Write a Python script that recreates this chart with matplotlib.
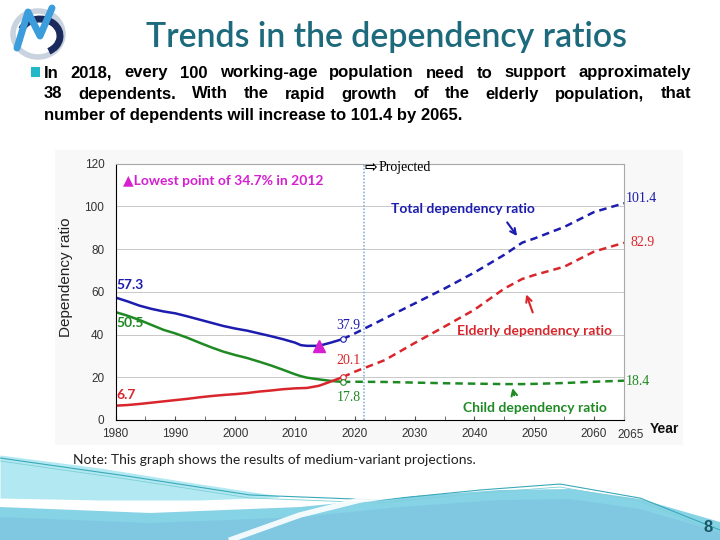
import numpy as np
import matplotlib.pyplot as plt
import matplotlib.transforms as mtransforms
from matplotlib import font_manager as fm
from matplotlib.patches import Rectangle, Ellipse, Arc

### Data
years_hist = [1980, 1982, 1984, 1986, 1988, 1990, 1992, 1994, 1996, 1998, 2000,
              2002, 2004, 2006, 2008, 2010, 2011, 2012, 2014, 2016, 2018]
total_hist = [57.3, 55.5, 53.5, 52.0, 50.8, 49.9, 48.5, 47.0, 45.5, 44.0, 42.8,
              41.8, 40.5, 39.2, 37.8, 36.2, 35.0, 34.7, 34.7, 36.2, 37.9]
child_hist = [50.5, 48.8, 46.8, 44.5, 42.2, 40.5, 38.5, 36.2, 34.0, 32.0, 30.4,
              29.0, 27.3, 25.5, 23.5, 21.4, 20.5, 19.8, 19.0, 18.3, 17.8]
elderly_hist = [6.7, 7.0, 7.5, 8.1, 8.7, 9.3, 9.9, 10.6, 11.2, 11.7, 12.1,
                12.6, 13.3, 13.8, 14.4, 14.8, 14.9, 15.0, 16.0, 18.0, 20.1]

years_proj = [2018, 2020, 2025, 2030, 2035, 2040, 2045, 2048, 2050, 2055, 2060, 2065]
total_proj = [37.9, 40.5, 47.5, 54.5, 61.5, 69.0, 77.3, 83.0, 84.9, 90.3, 97.3, 101.4]
elderly_proj = [20.1, 22.6, 28.0, 36.0, 43.7, 51.6, 61.5, 66.0, 67.8, 71.7, 78.8, 82.9]
child_proj = [17.8, 17.9, 17.8, 17.5, 17.2, 17.0, 16.8, 16.8, 16.9, 17.3, 17.9, 18.4]

lowest_year, lowest_val = 2014, 34.7
projected_from = 2021.5

xtick_vals = [1980, 1990, 2000, 2010, 2020, 2030, 2040, 2050, 2060, 2065]
ytick_vals = [0, 20, 40, 60, 80, 100, 120]

BLUE = '#1c1cae'
RED = '#d8262c'
GREEN = '#1f8a24'
MAGENTA = '#d61fd0'

names = {f.name for f in fm.fontManager.ttflist}
def pick(*cands):
    for c in cands:
        if c in names:
            return c
    return 'DejaVu Sans'

SANS = pick('Liberation Sans', 'DejaVu Sans')
NARROW = pick('Liberation Sans Narrow', 'DejaVu Sans Condensed', 'Liberation Sans')
HUMAN = pick('Lato', 'Open Sans', 'DejaVu Sans')
SERIF = pick('Liberation Serif', 'DejaVu Serif')

fig = plt.figure(figsize=(7.2, 5.4), dpi=100)

### Slide background / decorations (pixel coordinates)
bg = fig.add_axes([0, 0, 1, 1], zorder=0)
bg.set_xlim(0, 720)
bg.set_ylim(540, 0)
bg.axis('off')

# chart picture frame
bg.add_patch(Rectangle((55, 150), 628, 295, facecolor='#f8f8f8', edgecolor='none'))

# bottom waves
xw = np.linspace(0, 720, 200)
top_fill = np.interp(xw, [0, 150, 300, 400, 500, 570, 640, 720], [507, 513, 507, 497, 490, 489, 499, 522])
bg.fill_between(xw, top_fill, 540, color='#86d3e6', lw=0)
bg.fill_between(xw, top_fill + 10, 540, color='#7cc2e0', lw=0, alpha=0.6)
wedge_top = np.interp(xw, [0, 100, 200, 280], [455, 468, 484, 496])
wedge_bot = np.interp(xw, [0, 100, 200, 280], [498, 500, 500, 497])
mask = xw <= 280
bg.fill_between(xw[mask], wedge_top[mask], wedge_bot[mask], color='#9ee3ee', lw=0, alpha=0.8)
line_a = np.interp(xw, [0, 120, 250, 380, 480, 560, 640, 720], [458, 475, 495, 500, 490, 484, 498, 530])
bg.plot(xw, line_a, color='#3aa9b8', lw=0.8)
bg.plot(xw, line_a + 3, color='#7fcfd8', lw=0.6)
streak = np.interp(xw, [230, 300, 360, 420], [540, 515, 500, 492])
m2 = (xw >= 230) & (xw <= 420)
bg.plot(xw[m2], streak[m2], color='white', lw=4, alpha=0.9)

# logo
bg.add_patch(Ellipse((38, 34), 50, 46, fill=False, ec='#c9d3df', lw=4))
bg.add_patch(Arc((40, 36), 40, 34, theta1=200, theta2=420, ec='#1b2a5c', lw=5))
bg.plot([17, 28, 40, 52], [48, 12, 36, 8], color='#3b9ddc', lw=5, solid_capstyle='round')

# title and bullet text
bg.text(386, 37, 'Trends in the dependency ratios', ha='center', va='center',
        fontsize=24.4, fontweight='semibold', color='#1d6a7c', family=HUMAN)
bg.add_patch(Rectangle((31, 67), 9, 10, facecolor='#22b7c8', edgecolor='none'))

def justify(words, x0, x1, y, **kw):
    texts = [bg.text(0, y, w, va='baseline', ha='left', **kw) for w in words]
    r = fig.canvas.get_renderer()
    widths = [t.get_window_extent(r).width for t in texts]
    gap = (x1 - x0 - sum(widths)) / (len(words) - 1)
    x = x0
    for t, w in zip(texts, widths):
        t.set_x(x)
        x += w + gap

body = dict(fontsize=12, fontweight='bold', family=NARROW, color='black')
justify('In 2018, every 100 working-age population need to support approximately'.split(),
        44, 691, 77.5, **body)
justify('38 dependents.  With the rapid growth of the elderly population, that'.split(),
        44, 691, 98.5, **body)
bg.text(44, 120, 'number of dependents will increase to 101.4 by 2065.', va='baseline', **body)

bg.text(73, 460, 'Note: This graph shows the results of medium-variant projections.',
        va='center', fontsize=10, family=HUMAN, color='#222222')
bg.text(708, 528, '8', va='center', ha='center', fontsize=12, fontweight='bold',
        family=NARROW, color='#1b5868')

bg.text(66, 277, 'Dependency ratio', rotation=90, va='center', ha='center',
        fontsize=11, family=SANS, color='#222222')
bg.text(650, 429, 'Year', va='center', ha='left', fontsize=10, fontweight='bold',
        family=SANS, color='#111111')

### Chart
ax = fig.add_axes([115.5 / 720, 120 / 540, (624 - 115.5) / 720, (420 - 163.5) / 540], zorder=1)
ax.set_xlim(1980, 2065)
ax.set_ylim(0, 120)

ax.plot(years_hist, total_hist, color=BLUE, lw=1.8)
ax.plot(years_hist, child_hist, color=GREEN, lw=1.8)
ax.plot(years_hist, elderly_hist, color=RED, lw=1.8)
ax.plot(years_proj, total_proj, color=BLUE, lw=1.8, ls=(0, (3, 2)))
ax.plot(years_proj, elderly_proj, color=RED, lw=1.8, ls=(0, (3, 2)))
ax.plot(years_proj, child_proj, color=GREEN, lw=1.8, ls=(0, (3, 2)))
for vals, c in [(total_proj, BLUE), (elderly_proj, RED), (child_proj, GREEN)]:
    ax.plot(years_proj[0], vals[0], 'o', ms=4, mfc='white', mec=c, mew=0.8)
ax.plot(lowest_year, lowest_val, '^', ms=8, color=MAGENTA, zorder=5)

ax.axvline(projected_from, color='#8fb3da', lw=1.2, ls=(0, (1, 1)))
for v in ytick_vals[1:]:
    ax.axhline(v, color='#c8c8c8', lw=0.7, zorder=0)

ax.set_xticks(xtick_vals)
ax.set_xticks(np.arange(1985, 2065, 10), minor=True)
ax.set_yticks(ytick_vals)
ax.tick_params(axis='x', which='both', direction='in', length=3, color='#555555',
               labelsize=8.5, labelcolor='#333333', pad=6)
ax.tick_params(axis='y', length=0, labelsize=8.5, labelcolor='#333333', pad=8)
for lab in ax.get_xticklabels() + ax.get_yticklabels():
    lab.set_family(SANS)
last = ax.get_xticklabels()[-1]
last.set_transform(last.get_transform() + mtransforms.ScaledTranslation(0.07, -0.01, fig.dpi_scale_trans))
for s in ['left', 'bottom']:
    ax.spines[s].set_color('black')
for s in ['top', 'right']:
    ax.spines[s].set_color('#a8a8a8')

# annotations
lab = dict(fontsize=10, fontweight='bold', family=[HUMAN, 'DejaVu Sans'], va='center', ha='left')
ax.text(1981.2, 112, '\u25b2Lowest point of 34.7% in 2012', color=MAGENTA, **lab)
ax.text(2026.1, 98.6, 'Total dependency ratio', color=BLUE, **lab)
ax.text(2037.1, 41.6, 'Elderly dependency ratio', color=RED, clip_on=True, **lab)
ax.text(2038.1, 5.6, 'Child dependency ratio', color=GREEN, **lab)
ax.text(1980.1, 63, '57.3', color=BLUE, **lab)
ax.text(1980.2, 45.3, '50.5', color=GREEN, **lab)
ax.text(1980.1, 11.7, '6.7', color=RED, **lab)

num = dict(fontsize=10, family=SERIF, va='center', ha='left', clip_on=False)
ax.text(2016.9, 44.4, '37.9', color=BLUE, **num)
ax.text(2016.9, 28.0, '20.1', color=RED, **num)
ax.text(2016.9, 10.3, '17.8', color=GREEN, **num)
ax.text(2065.3, 103.7, '101.4', color=BLUE, **num)
ax.text(2066.1, 83.2, '82.9', color=RED, **num)
ax.text(2065.3, 18.2, '18.4', color=GREEN, **num)

ax.text(2021.7, 118, '\u21e8', fontsize=11, fontweight='bold', family='DejaVu Sans',
        va='center', ha='left', color='black')
ax.text(2024.0, 118, 'Projected', fontsize=10, family=SERIF, va='center', ha='left', color='black')

arrow = lambda c: dict(arrowstyle='->', color=c, lw=1.5, mutation_scale=10)
ax.annotate('', xy=(2047.4, 85.0), xytext=(2045.2, 93.5), arrowprops=arrow(BLUE))
ax.annotate('', xy=(2048.5, 60.0), xytext=(2049.9, 49.1), arrowprops=arrow(RED))
ax.annotate('', xy=(2046.25, 16.2), xytext=(2046.75, 10.3), arrowprops=arrow(GREEN))

fig.savefig('out.png', dpi=100)
